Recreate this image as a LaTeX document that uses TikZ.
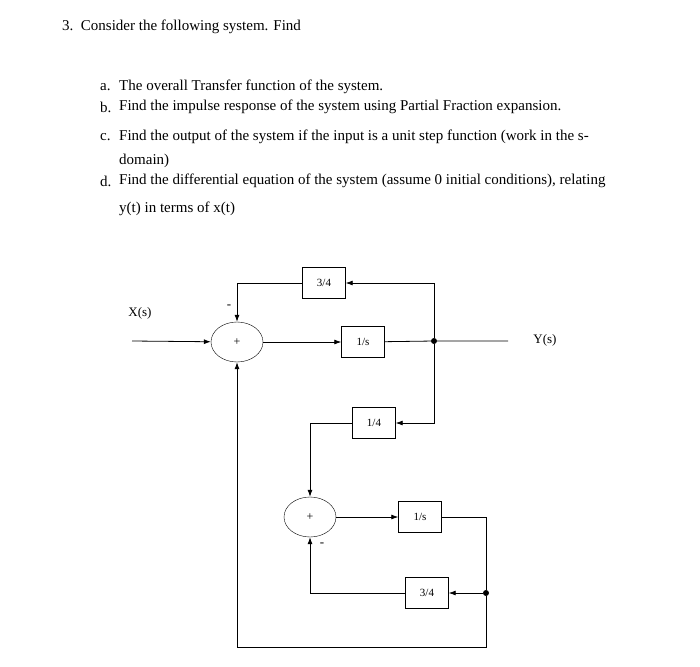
\documentclass[tikz,border=0pt]{standalone}
\usepackage{fontspec}
\setmainfont{Liberation Serif}
\usetikzlibrary{arrows.meta,shapes.geometric}
\begin{document}
\begin{tikzpicture}[x=1pt,y=-1pt,
  blk/.style={draw,minimum width=43pt,minimum height=31pt,inner sep=0pt,font=\fontsize{11}{12}\selectfont},
  sum/.style={draw,ellipse,minimum width=52pt,minimum height=40pt,inner sep=0pt,font=\fontsize{12}{12}\selectfont},
  ln/.style={line width=0.8pt},
  ar/.style={ln,-{Latex[length=7pt,width=5pt]}},
  dot/.style={circle,fill,inner sep=0pt,minimum size=6pt},
  txt/.style={anchor=west,font=\fontsize{15}{16}\selectfont,inner sep=0pt},
  lab/.style={font=\fontsize{13}{14}\selectfont,inner sep=0pt}]
\useasboundingbox[fill=white] (0,0) rectangle (700,666);
\node[txt] (t0) at (62,27) {3.\ \ Consider the following system. Find};
\node[txt] (la) at (100,87) {a.};
\node[txt] (ta) at (119,87) {The overall Transfer function of the system.};
\node[txt] (lb) at (100,107) {b.};
\node[txt] (tb) at (119,107) {Find the impulse response of the system using Partial Fraction expansion.};
\node[txt] (lc) at (100,137) {c.};
\node[txt] (tc) at (119,137) {Find the output of the system if the input is a unit step function (work in the s-};
\node[txt] (tc2) at (119,161) {domain)};
\node[txt] (ld) at (100,181) {d.};
\node[txt] (td) at (119,181) {Find the differential equation of the system (assume 0 initial conditions), relating};
\node[txt] (td2) at (119,209) {y(t) in terms of x(t)};

\node[sum] (s1) at (237,342) {+};
\node[blk] (g1) at (324,283) {3/4};
\node[blk] (i1) at (363,342) {1/s};
\node[dot] (j1) at (434,341) {};
\node[blk] (g2) at (374,423) {1/4};
\node[sum] (s2) at (310,517) {+};
\node[blk] (i2) at (420,517) {1/s};
\node[blk] (g3) at (427,593) {3/4};
\node[dot] (j2) at (486,593) {};
\coordinate (xin) at (132,341);
\coordinate (yout) at (508,341);
\coordinate (bl) at (237,647);
\node[lab] (xs) at (140,313) {X(s)};
\node[lab] (ys) at (545,340) {Y(s)};
\node[lab] (m1) at (229,307) {-};
\node[lab] (m2) at (322,545) {-};

\draw[ar] (xin) -- (s1);
\draw[ar] (s1) -- (i1);
\draw[ln] (i1) -- (j1) -- (yout);
\draw[ar] (j1) |- (g1);
\draw[ar] (g1) -| (s1);
\draw[ar] (j1) |- (g2);
\draw[ar] (g2) -| (s2);
\draw[ar] (s2) -- (i2);
\draw[ln] (i2.east) -| (j2);
\draw[ar] (j2) -- (g3);
\draw[ar] (g3) -| (s2);
\draw[ar] (j2) |- (bl) -- (s1.south);
\end{tikzpicture}
\end{document}
